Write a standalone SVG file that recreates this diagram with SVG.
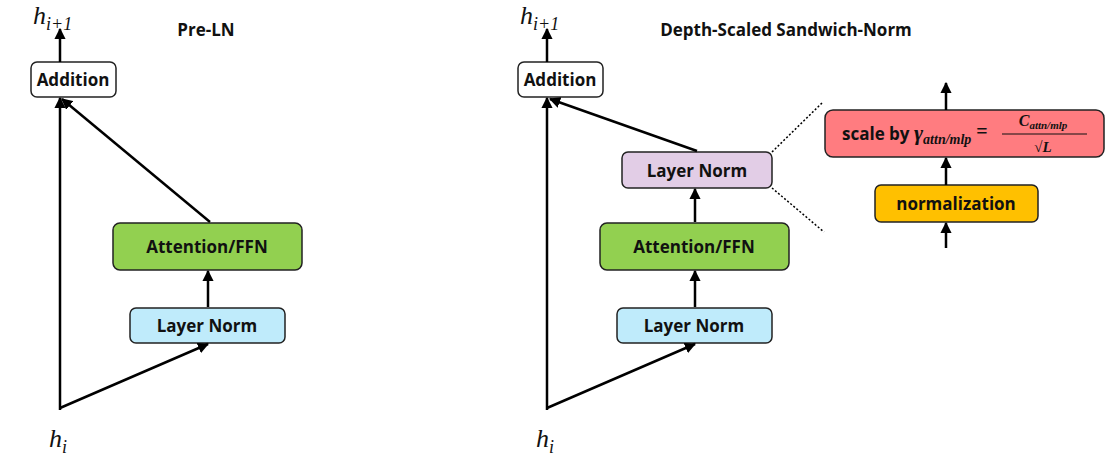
<svg xmlns="http://www.w3.org/2000/svg" width="1109" height="457" viewBox="0 0 1109 457">
<defs>
<marker id="ah" viewBox="0 0 10 10" refX="9" refY="5" markerWidth="4.5" markerHeight="4.5" orient="auto"><path d="M0,0 L10,5 L0,10 z" fill="#000"/></marker>
<style>
.b{stroke:#222;stroke-width:1.5}
.t{font-family:"Open Sans","Liberation Sans",sans-serif;font-weight:bold;font-size:17px;text-anchor:middle;fill:#111}
.m{font-family:"Liberation Serif",serif;font-style:italic;fill:#111}
.c line{stroke:#000;stroke-width:2.5}
</style>
</defs>
<rect width="1109" height="457" fill="#fff"/>
<g id="labels">
<text class="m" x="33" y="24" font-size="26">h<tspan font-size="18" dy="6">i+1</tspan></text>
<text class="m" x="49" y="447" font-size="26">h<tspan font-size="18" dy="6">i</tspan></text>
<text class="t" x="206" y="36">Pre-LN</text>
<text class="m" x="520" y="24" font-size="26">h<tspan font-size="18" dy="6">i+1</tspan></text>
<text class="m" x="536" y="447" font-size="26">h<tspan font-size="18" dy="6">i</tspan></text>
<text class="t" x="786" y="36">Depth-Scaled Sandwich-Norm</text>
</g>
<g id="add1"><rect class="b" x="31" y="62" width="85" height="35" rx="6" fill="#fff"/><text class="t" x="73" y="86" font-size="16">Addition</text></g>
<g id="attn1"><rect class="b" x="113" y="223" width="189" height="47" rx="7" fill="#92D050"/><text class="t" x="207" y="253" font-size="19">Attention/FFN</text></g>
<g id="ln1"><rect class="b" x="130" y="308" width="155" height="35" rx="6" fill="#BFEBFB"/><text class="t" x="207" y="332">Layer Norm</text></g>
<g id="add2"><rect class="b" x="518" y="62" width="85" height="35" rx="6" fill="#fff"/><text class="t" x="560" y="86" font-size="16">Addition</text></g>
<g id="attn2"><rect class="b" x="600" y="223" width="189" height="47" rx="7" fill="#92D050"/><text class="t" x="694" y="253" font-size="19">Attention/FFN</text></g>
<g id="ln2"><rect class="b" x="617" y="308" width="155" height="35" rx="6" fill="#BFEBFB"/><text class="t" x="694" y="332">Layer Norm</text></g>
<g id="ln3"><rect class="b" x="622" y="152" width="150" height="36" rx="6" fill="#E2CDE6"/><text class="t" x="697" y="177">Layer Norm</text></g>
<g id="scale"><rect class="b" x="825" y="110" width="279" height="47" rx="8" fill="#FF7C80"/>
<text x="842" y="140" font-family="'Open Sans','Liberation Sans',sans-serif" font-weight="bold" font-size="17" fill="#111">scale by <tspan class="m" font-size="22">γ</tspan><tspan class="m" font-size="14" dy="4">attn/mlp</tspan><tspan font-size="20" dy="-6" font-family="'Liberation Serif',serif"> = </tspan></text>
<text class="m" x="1043" y="126" font-size="16" text-anchor="middle" font-weight="bold">C<tspan font-size="11" dy="3">attn/mlp</tspan></text>
<line x1="1002" y1="134" x2="1087" y2="134" stroke="#111" stroke-width="1.2"/>
<text x="1043" y="152" font-size="15" text-anchor="middle" font-family="'Liberation Serif',serif" font-weight="bold" fill="#111">√<tspan font-style="italic">L</tspan></text>
</g>
<g id="norm"><rect class="b" x="875" y="185" width="163" height="37" rx="6" fill="#FFC000"/><text class="t" x="956" y="210">normalization</text></g>
<g class="c" id="connectors">
<line x1="60" y1="62" x2="60" y2="29" marker-end="url(#ah)"/>
<line x1="60" y1="410" x2="60" y2="98" marker-end="url(#ah)"/>
<line x1="210" y1="222" x2="62" y2="99" marker-end="url(#ah)"/>
<line x1="208" y1="307" x2="208" y2="271" marker-end="url(#ah)"/>
<line x1="60" y1="408" x2="208" y2="344" marker-end="url(#ah)"/>
<line x1="547" y1="62" x2="547" y2="29" marker-end="url(#ah)"/>
<line x1="547" y1="410" x2="547" y2="98" marker-end="url(#ah)"/>
<line x1="697" y1="151" x2="550" y2="99" marker-end="url(#ah)"/>
<line x1="695" y1="222" x2="695" y2="189" marker-end="url(#ah)"/>
<line x1="695" y1="307" x2="695" y2="271" marker-end="url(#ah)"/>
<line x1="547" y1="408" x2="695" y2="344" marker-end="url(#ah)"/>
<line x1="946" y1="248" x2="946" y2="223" marker-end="url(#ah)"/>
<line x1="946" y1="185" x2="946" y2="158" marker-end="url(#ah)"/>
<line x1="946" y1="110" x2="946" y2="83" marker-end="url(#ah)"/>
<line x1="772" y1="152" x2="822" y2="103" style="stroke-width:1.5;stroke-dasharray:2 2"/>
<line x1="772" y1="188" x2="824" y2="232" style="stroke-width:1.5;stroke-dasharray:2 2"/>
</g>
</svg>
